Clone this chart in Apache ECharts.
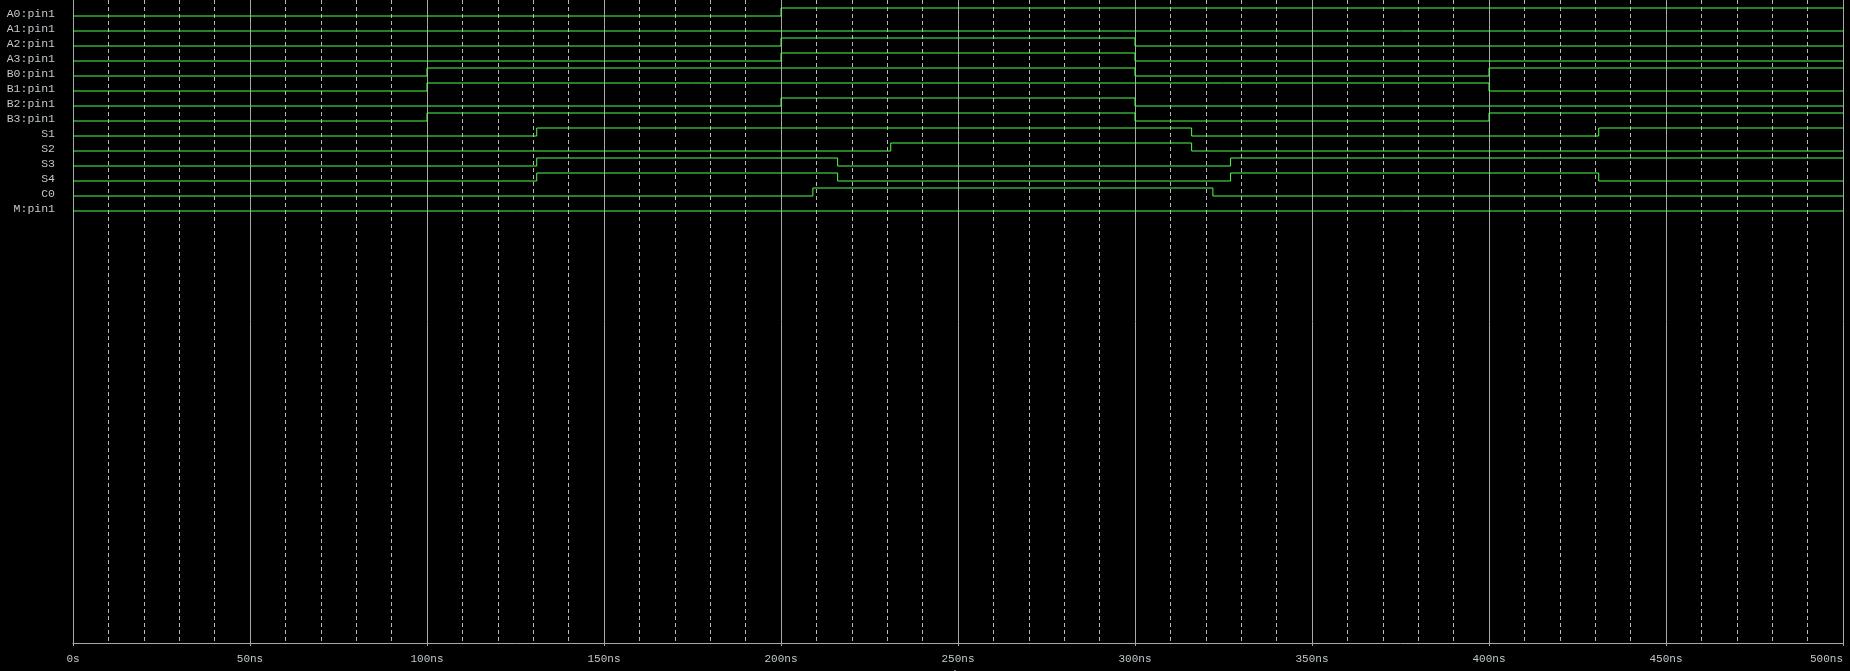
<!DOCTYPE html>
<html>
<head>
<meta charset="utf-8">
<script src="https://cdn.jsdelivr.net/npm/echarts@6/dist/echarts.min.js"></script>
<style>
html,body{margin:0;padding:0;background:#000;}
#chart{width:1850px;height:671px;}
</style>
</head>
<body>
<div id="chart"></div>
<script>
// ---- data ----
const signalNames = ['A0:pin1','A1:pin1','A2:pin1','A3:pin1','B0:pin1','B1:pin1','B2:pin1','B3:pin1','S1','S2','S3','S4','C0','M:pin1'];
const initialLevels = [0,0,0,0,0,0,0,0,0,0,0,0,0,0];
// toggle times (ns) for each signal
const edgesA0 = [200];
const edgesA1 = [];
const edgesA2 = [200, 300];
const edgesA3 = [200, 300];
const edgesB0 = [100, 300, 400];
const edgesB1 = [100, 400];
const edgesB2 = [200, 300];
const edgesB3 = [100, 300, 400];
const edgesS1 = [131, 316, 431];
const edgesS2 = [231, 316];
const edgesS3 = [131, 216, 327];
const edgesS4 = [131, 216, 327, 431];
const edgesC0 = [209, 322];
const edgesM  = [];
const allEdges = [edgesA0,edgesA1,edgesA2,edgesA3,edgesB0,edgesB1,edgesB2,edgesB3,edgesS1,edgesS2,edgesS3,edgesS4,edgesC0,edgesM];
const timeMin = 0, timeMax = 500, timeStep = 50;

// ---- layout (y axis in pixel-like units, inverted) ----
const Y_MAX = 643;
const ROW_PITCH = 15, ROW_BASE = 16, HIGH_LIFT = 8, LABEL_OFF = 13.5;
const rowY = (k, level) => ROW_BASE + k * ROW_PITCH - level * HIGH_LIFT;

const green = '#50ff50';
const series = signalNames.map((name, k) => {
  let lvl = initialLevels[k];
  const pts = [[timeMin, rowY(k, lvl)]];
  allEdges[k].forEach(t => { lvl = 1 - lvl; pts.push([t, rowY(k, lvl)]); });
  pts.push([timeMax, rowY(k, lvl)]);
  return {
    name, type: 'line', step: 'end', data: pts, showSymbol: false, symbol: 'none',
    lineStyle: { color: green, width: 1 }, silent: true, animation: false, z: 3
  };
});
const labelValues = signalNames.map((_, k) => LABEL_OFF + k * ROW_PITCH);

const chart = echarts.init(document.getElementById('chart'), null, { renderer: 'canvas' });
chart.setOption({
  backgroundColor: '#000',
  animation: false,
  grid: { left: 73, right: 7, top: 0, bottom: 28, containLabel: false, outerBoundsMode: 'none' },
  xAxis: {
    type: 'value', min: timeMin, max: timeMax, interval: timeStep,
    name: 'Time', nameLocation: 'middle', nameGap: 22,
    nameTextStyle: { color: '#c0c8cc', fontFamily: 'Liberation Mono', fontSize: 11 },
    axisLine: { onZero: false, lineStyle: { color: '#a8a8a8', width: 1 } },
    axisTick: { show: true, length: 3, lineStyle: { color: '#a8a8a8' } },
    axisLabel: {
      color: '#c0c8cc', fontFamily: 'Liberation Mono', fontSize: 11, margin: 11,
      alignMaxLabel: 'right',
      formatter: v => v === 0 ? '0s' : v + 'ns'
    },
    splitLine: { show: true, lineStyle: { color: '#a8a8a8', width: 1 } },
    minorTick: { show: false, splitNumber: 5 },
    minorSplitLine: { show: true, lineStyle: { color: '#b8b8b8', width: 1, type: [4, 3] } }
  },
  yAxis: {
    type: 'value', min: 0, max: Y_MAX, inverse: true,
    axisLine: { show: true, lineStyle: { color: '#a8a8a8', width: 1 } },
    axisTick: { show: false },
    splitLine: { show: false },
    axisLabel: {
      customValues: labelValues,
      color: '#c0c8cc', fontFamily: 'Liberation Mono', fontSize: 11.5, margin: 18,
      formatter: v => {
        const k = Math.round((v - LABEL_OFF) / ROW_PITCH);
        return signalNames[k] || '';
      }
    }
  },
  series
});
</script>
</body>
</html>
